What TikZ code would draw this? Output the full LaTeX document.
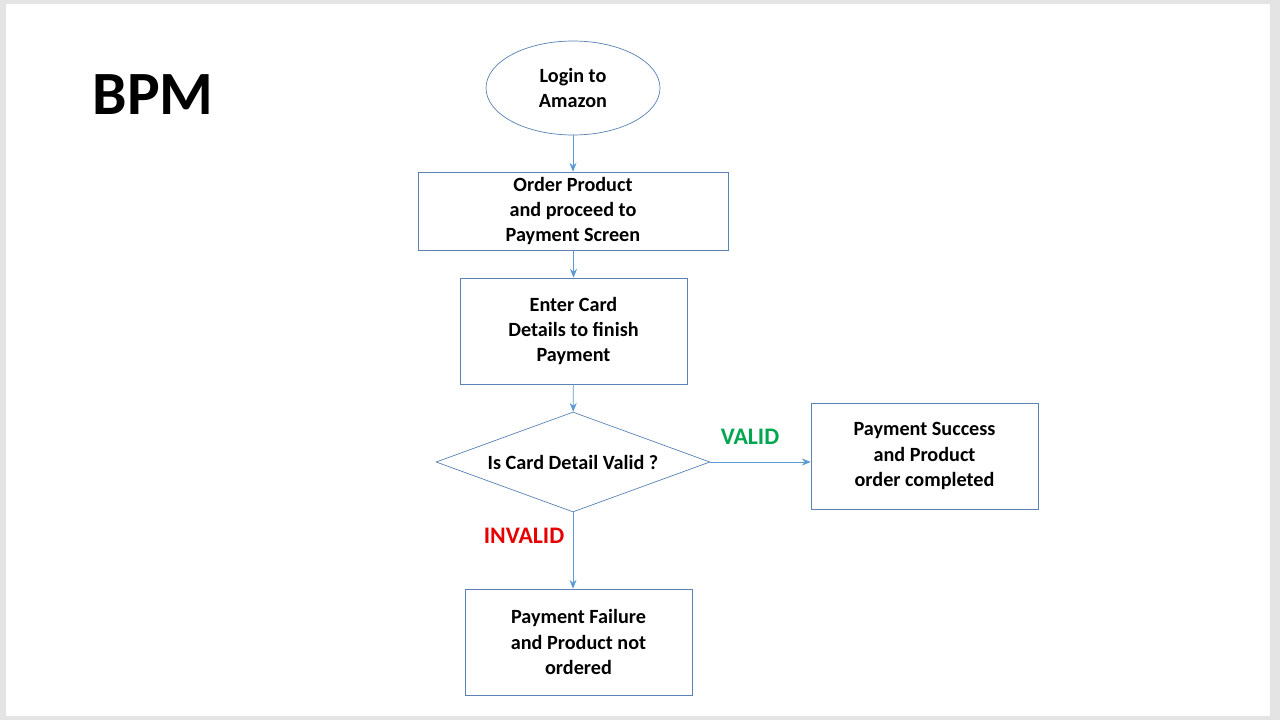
\documentclass[tikz,border=0pt]{standalone}
\usepackage{fontspec}
\setmainfont{Carlito}
\usetikzlibrary{shapes.geometric,arrows.meta,positioning}
\definecolor{frame}{RGB}{228,228,228}
\definecolor{edge}{RGB}{90,130,180}
\definecolor{flow}{RGB}{91,155,213}
\definecolor{validgreen}{RGB}{0,166,80}
\definecolor{invalidred}{RGB}{230,0,0}

\begin{document}
\begin{tikzpicture}[x=0.02cm, y=-0.02cm,
        every node/.style={font=\fontsize{11.5pt}{14.5pt}\selectfont\bfseries, align=center},
        start/.style={ellipse, draw=edge, minimum width=3.48cm, minimum height=1.88cm, inner sep=0pt},
        box/.style={rectangle, draw=edge, minimum width=4.54cm, minimum height=2.12cm, inner sep=0pt},
        check/.style={diamond, draw=edge, aspect=2.74, inner sep=0pt, minimum width=5.48cm, minimum height=2cm},
        arrow/.style={draw=flow, -{Stealth[length=5pt,width=4pt]}}
    ]
        % Slide frame
        \fill[frame] (0,0) rectangle (1280,720);
        \fill[white] (6,4) rectangle (1270,716);

        % Title
        \node[font=\fontsize{35pt}{40pt}\selectfont\bfseries] (title) at (153,95) {BPM};

        % Flow steps
        \node[start] (login) at (573,88) {Login to\\Amazon};
        \node[box, minimum width=6.2cm, minimum height=1.56cm] (order) at (573,211) {Order Product\\and proceed to\\Payment Screen};
        \node[box] (card) at (573.5,331) {Enter Card\\Details to finish\\Payment};
        \node[check] (valid) at (573,462) {Is Card Detail Valid ?};
        \node[box] (success) at (924.5,456) {Payment Success\\and Product\\order completed};
        \node[box] (failure) at (578.5,642) {Payment Failure\\and Product not\\ordered};

        % Connections
        \draw[arrow] (login) -- (order);
        \draw[arrow] (order.south -| card.north) -- (card);
        \draw[arrow] (card) -- (valid);
        \draw[arrow] (valid.east) -- (valid.east -| success.west);
        \draw[arrow] (valid.south) -- (valid.south |- failure.north);

        % Branch labels
        \node[text=validgreen, font=\fontsize{13.5pt}{16pt}\selectfont\bfseries] (yes) at (750,437) {VALID};
        \node[text=invalidred, font=\fontsize{13.5pt}{16pt}\selectfont\bfseries] (no) at (524,536) {INVALID};
    \end{tikzpicture}
\end{document}
